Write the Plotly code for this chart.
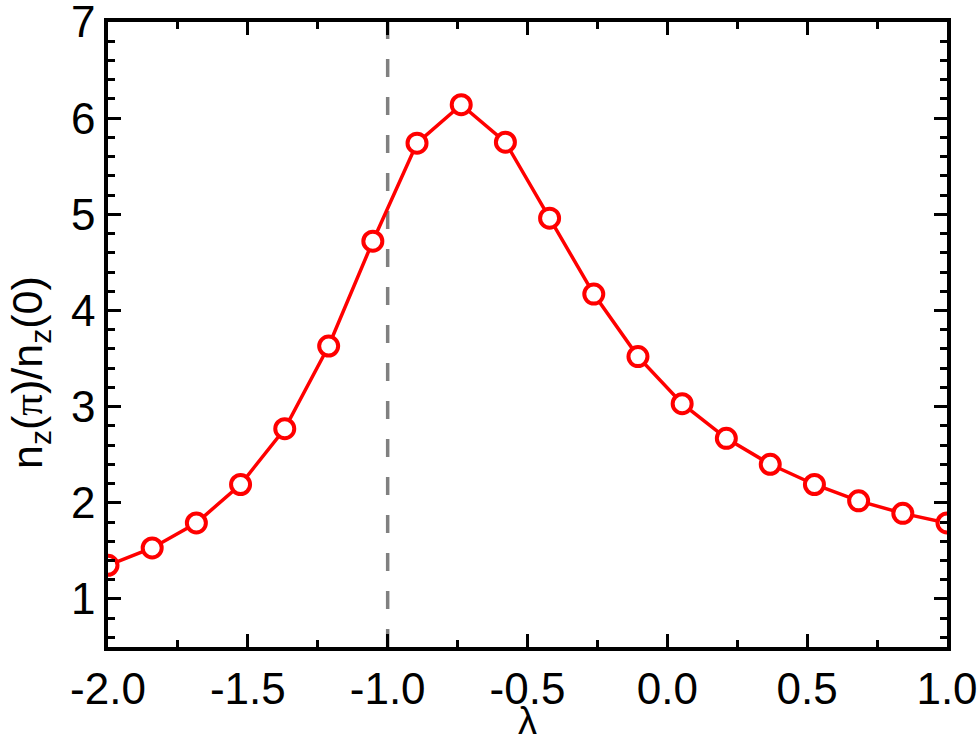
import plotly.graph_objects as go

lam = [-2.0, -1.842, -1.684, -1.526, -1.368, -1.211, -1.053, -0.895, -0.737, -0.579,
       -0.421, -0.263, -0.105, 0.053, 0.211, 0.368, 0.526, 0.684, 0.842, 1.0]
ratio = [1.35, 1.53, 1.79, 2.19, 2.77, 3.63, 4.72, 5.74, 6.14, 5.75,
         4.96, 4.17, 3.52, 3.03, 2.67, 2.40, 2.19, 2.02, 1.89, 1.79]
critical_lam = -1.0

x_range = [-2.0, 1.0]
y_range = [0.5, 7.0]
x_tickvals = [-2.0, -1.5, -1.0, -0.5, 0.0, 0.5, 1.0]
x_ticktext = ["-2.0", "-1.5", "-1.0", "-0.5", "0.0", "0.5", "1.0"]
y_tickvals = [1, 2, 3, 4, 5, 6, 7]
y_ticktext = ["1", "2", "3", "4", "5", "6", "7"]
x_title = "λ"
y_title = "n<sub>z</sub>(<span style=\"font-family:Liberation Serif\">π</span>)/n<sub>z</sub>(0)"

fig = go.Figure()
fig.add_trace(go.Scatter(
    x=lam, y=ratio, mode="lines+markers",
    line=dict(color="#ff0000", width=3.5),
    marker=dict(symbol="circle", size=19, color="white",
                line=dict(color="#ff0000", width=4)),
    cliponaxis=True, showlegend=False,
))
fig.add_shape(type="line", xref="x", yref="paper", x0=critical_lam, x1=critical_lam,
              y0=0, y1=1, line=dict(color="#808080", width=3.5, dash="18px,20px"),
              layer="below")

axis_common = dict(
    showline=True, linecolor="black", linewidth=3.5, mirror="ticks",
    ticks="inside", tickcolor="black", tickwidth=3, ticklen=13,
    showgrid=False, zeroline=False, automargin=False, ticklabeloverflow="allow",
    tickfont=dict(family="Liberation Sans, Arial", size=44, color="black"),
)

fig.update_xaxes(**axis_common, range=x_range, tickmode="array",
                 tickvals=x_tickvals, ticktext=x_ticktext,
                 minor=dict(ticks="inside", dtick=0.25, tick0=-2.0, ticklen=7, tickwidth=3, tickcolor="black", showgrid=False))
fig.update_yaxes(**axis_common, range=y_range, tickmode="array",
                 tickvals=y_tickvals, ticktext=y_ticktext,
                 minor=dict(ticks="inside", dtick=0.2, tick0=0, ticklen=7, tickwidth=3, tickcolor="black", showgrid=False))

fig.add_annotation(text=x_title, xref="paper", yref="paper", x=0.5, y=-0.119,
                   xanchor="center", yanchor="middle", showarrow=False,
                   font=dict(family="Liberation Sans, Arial", size=38, color="black"))
fig.add_annotation(text=y_title, xref="paper", yref="paper", x=-0.093, y=0.44,
                   xanchor="center", yanchor="middle", showarrow=False, textangle=-90,
                   font=dict(family="Liberation Sans, Arial", size=43, color="black"))

fig.update_layout(
    width=979, height=744,
    margin=dict(l=108, r=32, t=22, b=97),
    plot_bgcolor="white", paper_bgcolor="white",
)
fig.write_html("out.html", config={"displayModeBar": False},
               post_script="document.body.style.margin='0px';")
